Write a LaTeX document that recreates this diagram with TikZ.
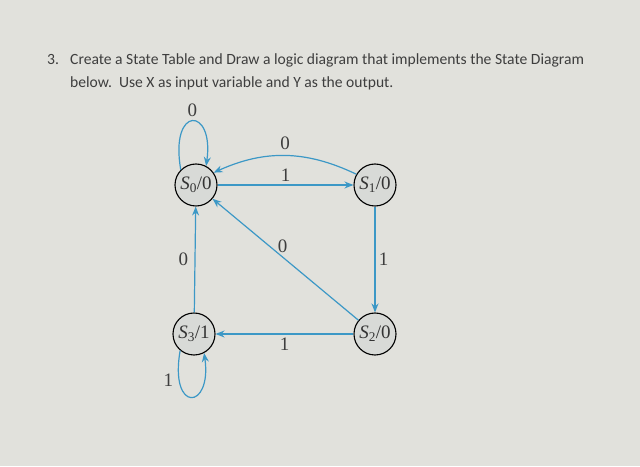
\documentclass[tikz,border=0pt]{standalone}
\usepackage{fontspec}
\setmainfont{Liberation Serif}
\newfontfamily\questfont{Carlito}
\usetikzlibrary{arrows.meta}
\definecolor{screen}{RGB}{225,225,220}
\definecolor{stategray}{RGB}{216,218,215}
\definecolor{edgeblue}{RGB}{60,152,198}
\definecolor{ink}{RGB}{62,62,62}
\newcommand{\st}[2]{\textit{S}\textsubscript{#1}/#2}

\begin{document}
\begin{tikzpicture}[x=1pt,y=1pt,
    every node/.style={font=\fontsize{19}{21}\selectfont,text=ink},
    state/.style={circle,draw=black,line width=1.1pt,fill=stategray,minimum size=42pt,inner sep=0pt,text=black!80},
    tr/.style={draw=edgeblue,line width=1.2pt,-{Stealth[length=9pt,width=7pt]}},
    quest/.style={anchor=base west,inner sep=0pt,font=\questfont\fontsize{15.6}{18}\selectfont,text=ink}]
  \fill[screen] (0,0) rectangle (640,466);
  \useasboundingbox (0,0) rectangle (640,466);

  % question text
  \node[quest] (num) at (47,401) {3.};
  \node[quest] (line1) at (70,401) {Create a State Table and Draw a logic diagram that implements the State Diagram};
  \node[quest] (line2) at (70,378) {below.\ \ Use X as input variable and Y as the output.};

  % states
  \node[state] (S0) at (196,281) {\st{0}{0}};
  \node[state] (S1) at (375,281) {\st{1}{0}};
  \node[state] (S2) at (375,132) {\st{2}{0}};
  \node[state] (S3) at (194,132) {\st{3}{1}};

  % transitions
  \draw[tr] (S0.135) .. controls +(100:66) and +(82:60) .. node[above=1pt] (l00) {0} (S0.62);
  \draw[tr] (S1.150) to[bend right=25] node[above=2pt] (l10) {0} (S0.35);
  \draw[tr] (S0) -- node[above] (l01) {1} (S1);
  \draw[tr] (S1) -- node[right] (l12) {1} (S2);
  \draw[tr] (S2) -- node[pos=0.52,above] (l20) {0} (S0);
  \draw[tr] (S2) -- node[below] (l23) {1} (S3);
  \draw[tr] (S3) -- node[left=3pt] (l30) {0} (S0);
  \draw[tr] (S3.-130) .. controls +(-100:64) and +(-82:58) .. node[pos=0.2,left=2pt] (l33) {1} (S3.-62);
\end{tikzpicture}
\end{document}
